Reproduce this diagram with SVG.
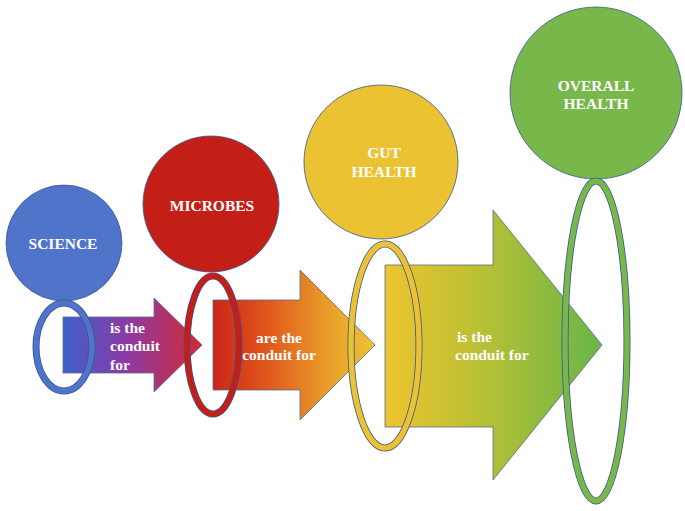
<svg xmlns="http://www.w3.org/2000/svg" width="685" height="511" viewBox="0 0 685 511">
<defs>
<linearGradient id="g1" x1="0" y1="0" x2="1" y2="0">
<stop offset="0" stop-color="#3d62cc"/>
<stop offset="0.45" stop-color="#8b3aa6"/>
<stop offset="1" stop-color="#d42a32"/>
</linearGradient>
<linearGradient id="g2" x1="0" y1="0" x2="1" y2="0">
<stop offset="0" stop-color="#cc2418"/>
<stop offset="0.35" stop-color="#e15a1c"/>
<stop offset="0.7" stop-color="#e89c2a"/>
<stop offset="1" stop-color="#ecc431"/>
</linearGradient>
<linearGradient id="g3" x1="0" y1="0" x2="1" y2="0">
<stop offset="0" stop-color="#edc42f"/>
<stop offset="0.45" stop-color="#b8c034"/>
<stop offset="1" stop-color="#68b648"/>
</linearGradient>
</defs>
<style>
.arrow{stroke:#5a6a8a;stroke-width:0.8}
.circ{stroke:#3a5590;stroke-width:0.8}
.ringo{fill:none;stroke:#3a5590;stroke-width:7}
.ring{fill:none;stroke-width:5.4}
.lbl{font-family:"Liberation Serif","Times New Roman",serif;font-weight:bold;font-size:15.5px;fill:#ffffff}
.mid{text-anchor:middle}
</style>
<rect width="685" height="511" fill="#ffffff"/>
<g id="connectors">
<polygon class="arrow" fill="url(#g1)" points="63,317 154,317 154,298 202,345 154,392 154,373 63,373"/>
<polygon class="arrow" fill="url(#g2)" points="213,300 300,300 300,270 375,345 300,420 300,390 213,390"/>
<polygon class="arrow" fill="url(#g3)" points="385,265 493,265 493,210 602,345 493,480 493,427 385,427"/>
<text class="lbl" x="110" y="333">is the</text>
<text class="lbl" x="110" y="351">conduit</text>
<text class="lbl" x="110" y="370">for</text>
<text class="lbl mid" x="279" y="343">are the</text>
<text class="lbl mid" x="279" y="360">conduit for</text>
<text class="lbl" x="457" y="342">is the</text>
<text class="lbl" x="455" y="360">conduit for</text>
</g>
<g id="science">
<circle class="circ" cx="64" cy="243" r="58" fill="#4f74c9"/>
<text class="lbl mid" x="63" y="249">SCIENCE</text>
<ellipse class="ringo" cx="64" cy="347" rx="28" ry="44"/>
<ellipse class="ring" stroke="#4f74c9" cx="64" cy="347" rx="28" ry="44"/>
</g>
<g id="microbes">
<circle class="circ" cx="211" cy="204" r="68" fill="#c41f16"/>
<text class="lbl mid" x="212" y="211">MICROBES</text>
<ellipse class="ringo" cx="213" cy="345" rx="26" ry="69"/>
<ellipse class="ring" stroke="#c41f16" cx="213" cy="345" rx="26" ry="69"/>
</g>
<g id="gut-health">
<circle class="circ" cx="381" cy="162" r="77" fill="#ebc232"/>
<text class="lbl mid" x="384" y="158">GUT</text>
<text class="lbl mid" x="384" y="177">HEALTH</text>
<ellipse class="ringo" cx="385" cy="346" rx="34" ry="102"/>
<ellipse class="ring" stroke="#ebc232" cx="385" cy="346" rx="34" ry="102"/>
</g>
<g id="overall-health">
<circle class="circ" cx="596" cy="93" r="86" fill="#78b74a"/>
<text class="lbl mid" x="596" y="91">OVERALL</text>
<text class="lbl mid" x="596" y="109">HEALTH</text>
<ellipse class="ringo" cx="596" cy="341" rx="31" ry="160"/>
<ellipse class="ring" stroke="#78b74a" cx="596" cy="341" rx="31" ry="160"/>
</g>
</svg>
